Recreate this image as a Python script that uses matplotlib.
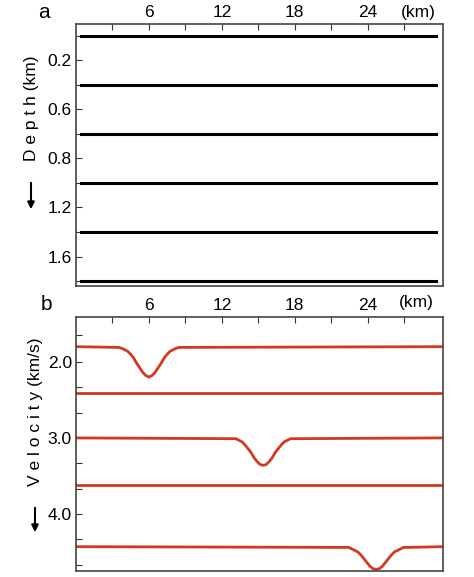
import matplotlib
matplotlib.use("Agg")
import matplotlib.pyplot as plt

plt.rcParams['font.family'] = ['Liberation Sans', 'DejaVu Sans']

x_ticks = [6, 12, 18, 24]
x_minor = [3, 9, 15, 21, 27]
depth_lines = [0.1, 0.3, 0.5, 0.7, 0.9, 1.1]
depth_tick_pos = [0.2, 0.4, 0.6, 0.8, 1.0]
depth_tick_labels = ['0.2', '0.6', '0.8', '1.2', '1.6']

# velocity curves (x km, value)
dip1_x = [0, 3.5, 3.75, 4.0, 4.25, 4.5, 4.75, 5.0, 5.25, 5.5, 5.75, 6.0,
          6.25, 6.5, 6.75, 7.0, 7.25, 7.5, 7.75, 8.0, 8.25, 8.5, 30.2]
v1 = [1.80, 1.81, 1.82, 1.84, 1.86, 1.90, 1.95, 2.02, 2.08, 2.14, 2.18, 2.20,
      2.18, 2.14, 2.08, 2.02, 1.95, 1.90, 1.86, 1.84, 1.82, 1.81, 1.80]
v2_x = [0, 30.2]
v2 = [2.41, 2.41]
dip3_x = [0, 12.9, 13.15, 13.4, 13.65, 13.9, 14.15, 14.4, 14.65, 14.9, 15.15, 15.4,
          15.65, 15.9, 16.15, 16.4, 16.65, 16.9, 17.15, 17.4, 17.65, 17.9, 30.2]
v3 = [3.00, 3.01, 3.01, 3.03, 3.05, 3.09, 3.14, 3.19, 3.26, 3.31, 3.35, 3.36,
      3.35, 3.31, 3.26, 3.19, 3.14, 3.09, 3.05, 3.03, 3.01, 3.01, 3.00]
v4_x = [0, 30.2]
v4 = [3.62, 3.62]
dip5_x = [0, 22.2, 22.45, 22.7, 22.95, 23.2, 23.45, 23.7, 23.95, 24.2, 24.45, 24.7,
          24.95, 25.2, 25.45, 25.7, 25.95, 26.2, 26.45, 26.7, 26.95, 27.2, 30.2]
v5 = [4.43, 4.44, 4.44, 4.46, 4.48, 4.50, 4.54, 4.59, 4.64, 4.69, 4.72, 4.73,
      4.72, 4.69, 4.64, 4.59, 4.54, 4.50, 4.48, 4.46, 4.44, 4.44, 4.43]
vel_ticks = [2.0, 3.0, 4.0]
vel_minor = [1.65, 2.33, 2.67, 3.33, 3.67, 4.33, 4.67]

red = '#d2391f'
fs = 12.5
fig = plt.figure(figsize=(4.74, 5.77), dpi=100)
W, H = 474, 577
axa = fig.add_axes([76/W, 1-286/H, 367/W, 262/H])
axb = fig.add_axes([76/W, 1-571/H, 367/W, 254/H])

for ax in (axa, axb):
    ax.set_xlim(0, 30.2)
    ax.xaxis.tick_top()
    ax.set_xticks(x_ticks)
    ax.set_xticks(x_minor, minor=True)
    ax.tick_params(axis='both', which='both', direction='in', labelsize=fs,
                   length=4, width=0.8, pad=3, colors='#333333', labelcolor='black')
    for s in ax.spines.values():
        s.set_linewidth(1.2)
        s.set_color('#444444')

axa.set_ylim(1.12, 0.053)
for d in depth_lines:
    axa.plot([0.4, 29.6], [d, d], color='black', lw=2.2)
axa.set_yticks(depth_tick_pos)
axa.set_yticklabels(depth_tick_labels)
axa.set_yticks(depth_lines, minor=True)

axb.set_ylim(4.75, 1.41)
for xs, ys in [(dip1_x, v1), (v2_x, v2), (dip3_x, v3), (v4_x, v4), (dip5_x, v5)]:
    axb.plot(xs, ys, color=red, lw=2.0)
axb.set_yticks(vel_ticks)
axb.set_yticklabels(['2.0', '3.0', '4.0'])
axb.set_yticks(vel_minor, minor=True)

fig.text(418/W, 1-12/H, '(km)', fontsize=fs, ha='center', va='center')
fig.text(416/W, 1-302/H, '(km)', fontsize=fs, ha='center', va='center')
fig.text(44/W, 1-13/H, 'a', fontsize=15, ha='center', va='center')
fig.text(46/W, 1-305/H, 'b', fontsize=15, ha='center', va='center')
fig.text(32/W, 1-108/H, 'D e p t h (km)', fontsize=fs, rotation=90, ha='center', va='center')
fig.text(36/W, 1-412/H, 'V e l o c i t y (km/s)', fontsize=fs, rotation=90, ha='center', va='center')
fig.add_artist(matplotlib.patches.FancyArrowPatch((31/W, 1-180/H), (31/W, 1-212/H),
               transform=fig.transFigure, arrowstyle='-|>', mutation_scale=10, lw=1.5, color='black'))
fig.add_artist(matplotlib.patches.FancyArrowPatch((35/W, 1-505/H), (35/W, 1-535/H),
               transform=fig.transFigure, arrowstyle='-|>', mutation_scale=10, lw=1.5, color='black'))

fig.savefig('out.png', dpi=100)
